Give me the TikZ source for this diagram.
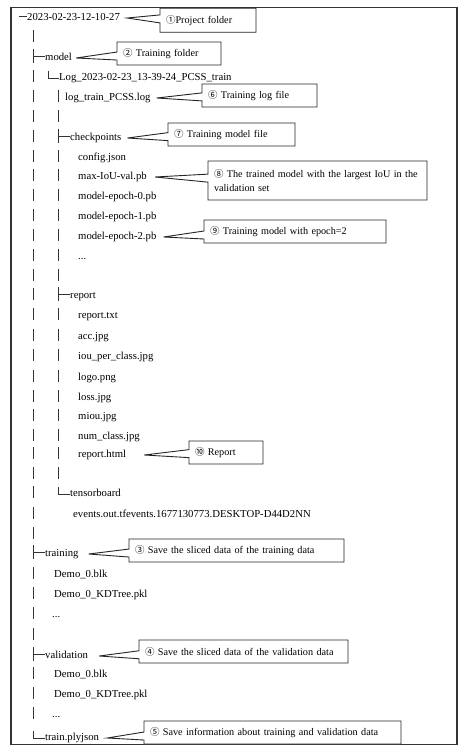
\documentclass[tikz,border=0pt]{standalone}
\usepackage{fontspec}
\setmainfont{Liberation Serif}
\newfontfamily\circfont{Noto Sans CJK SC}
\usetikzlibrary{shapes.callouts,calc}
\newcommand\cnum[1]{{\circfont\fontsize{9.5pt}{10pt}\selectfont #1}}
\begin{document}
\begin{tikzpicture}[x=1pt,y=-1pt,
  txt/.style={anchor=base west, inner sep=0pt, text height=7.5pt, text depth=2.5pt, font=\fontsize{10.7pt}{13pt}\selectfont},
  cbox/.style={rectangle callout, draw=black!85, fill=white, line width=0.9pt, inner xsep=6pt, inner ysep=3pt,
    align=left, callout pointer width=8pt, minimum height=23pt, font=\fontsize{10.2pt}{13.5pt}\selectfont},
  tree/.style={line width=0.9pt, draw=black!80},
  frame/.style={line width=1.2pt, draw=black!80}]
\useasboundingbox (0,0) rectangle (462,751);
\draw[frame] (11,7.5) rectangle (457,744.5);

% text nodes
\node[txt] (n0) at (27,20.5) {2023-02-23-12-10-27};
\node[txt] (n2) at (45,60.5) {model};
\node[txt] (n3) at (59,80.5) {Log\_2023-02-23\_13-39-24\_PCSS\_train};
\node[txt] (n4) at (65,100.5) {log\_train\_PCSS.log};
\node[txt] (n6) at (70,140.5) {checkpoints};
\node[txt] (n7) at (78,160.5) {config.json};
\node[txt] (n8) at (78,179.5) {max-IoU-val.pb};
\node[txt] (n9) at (78,199.5) {model-epoch-0.pb};
\node[txt] (n10) at (78,219.5) {model-epoch-1.pb};
\node[txt] (n11) at (78,239.5) {model-epoch-2.pb};
\node[txt] (n12) at (78,259.5) {...};
\node[txt] (n14) at (70,298.5) {report};
\node[txt] (n15) at (78,318.5) {report.txt};
\node[txt] (n16) at (78,339.5) {acc.jpg};
\node[txt] (n17) at (78,359.5) {iou\_per\_class.jpg};
\node[txt] (n18) at (78,380.5) {logo.png};
\node[txt] (n19) at (78,400.5) {loss.jpg};
\node[txt] (n20) at (78,419.5) {miou.jpg};
\node[txt] (n21) at (78,439.5) {num\_class.jpg};
\node[txt] (n22) at (78,457.5) {report.html};
\node[txt] (n24) at (70,496.5) {tensorboard};
\node[txt] (n25) at (73,517.5) {events.out.tfevents.1677130773.DESKTOP-D44D2NN};
\node[txt] (n27) at (45,556.5) {training};
\node[txt] (n28) at (54,577.5) {Demo\_0.blk};
\node[txt] (n29) at (54,597.5) {Demo\_0\_KDTree.pkl};
\node[txt] (n30) at (52,617.5) {...};
\node[txt] (n32) at (45,658.5) {validation};
\node[txt] (n33) at (54,677.5) {Demo\_0.blk};
\node[txt] (n34) at (54,697.5) {Demo\_0\_KDTree.pkl};
\node[txt] (n35) at (52,717.5) {...};
\node[txt] (n36) at (45,740.5) {train.plyjson};

% tree glyphs
\draw[tree] (19,16) -- (n0.west |- 0,16);
\foreach \y in {37,77,97,117,137,157,176,196,216,236,256,276,295,315,336,356,377,397,416,436,454,474,493,514,534,574,594,614,635,674,694,714}
  \draw[tree] (33,\y-7) -- (33,\y+5);
\foreach \y in {97,117,157,176,196,216,236,256,276,315,336,356,377,397,416,436,454,474}
  \draw[tree] (58.5,\y-7) -- (58.5,\y+5);
% tees
\draw[tree] (33,49) -- (33,63) (33,56) -- (n2.west |- 0,56);
\draw[tree] (33,545) -- (33,559) (33,552) -- (n27.west |- 0,552);
\draw[tree] (33,647) -- (33,661) (33,654) -- (n32.west |- 0,654);
\draw[tree] (58.5,129) -- (58.5,143) (58.5,136) -- (n6.west |- 0,136);
\draw[tree] (58.5,287) -- (58.5,301) (58.5,294) -- (n14.west |- 0,294);
% corners
\draw[tree] (48,71) -- (48,78) -- (n3.west |- 0,78);
\draw[tree] (58.5,487) -- (58.5,494) -- (n24.west |- 0,494);
\draw[tree] (33,731) -- (33,738) -- (n36.west |- 0,738);

% callouts
\node[cbox, text width=84pt, minimum height=24pt, callout absolute pointer={($(n0.east)+(7,0)$)}] (c1) at (208,20.25) {\cnum{①}Project folder};
\node[cbox, text width=92pt, callout absolute pointer={($(n2.east)+(4,0)$)}] (c2) at (169,53.5) {\cnum{②} Training folder};
\node[cbox, text width=103pt, callout absolute pointer={($(n4.east)+(6,0)$)}] (c6) at (259.5,95.5) {\cnum{⑥} Training log file};
\node[cbox, text width=115pt, callout absolute pointer={($(n6.east)+(6,0)$)}] (c7) at (231.5,134.5) {\cnum{⑦} Training model file};
\node[cbox, text width=207pt, minimum height=39pt, callout absolute pointer={($(n8.east)+(8,0)$)}] (c8) at (317.5,180.5) {\cnum{⑧} The trained model with the largest IoU in the\\validation set};
\node[cbox, text width=170pt, callout absolute pointer={($(n11.east)+(7,0)$)}] (c9) at (295,231.5) {\cnum{⑨} Training model with epoch=2};
\node[cbox, text width=62pt, callout absolute pointer={($(n22.east)+(18,0)$)}] (c10) at (226,452.5) {\cnum{⑩} Report};
\node[cbox, text width=203pt, callout absolute pointer={($(n27.east)+(10,0)$)}] (c3) at (236.5,550.5) {\cnum{③} Save the sliced data of the training data};
\node[cbox, text width=197pt, callout absolute pointer={($(n32.east)+(11,0)$)}] (c4) at (243.5,651.5) {\cnum{④} Save the sliced data of the validation data};
\node[cbox, text width=245pt, callout absolute pointer={($(n36.east)+(8,0)$)}] (c5) at (272.5,732.5) {\cnum{⑤} Save information about training and validation data};
\end{tikzpicture}
\end{document}
